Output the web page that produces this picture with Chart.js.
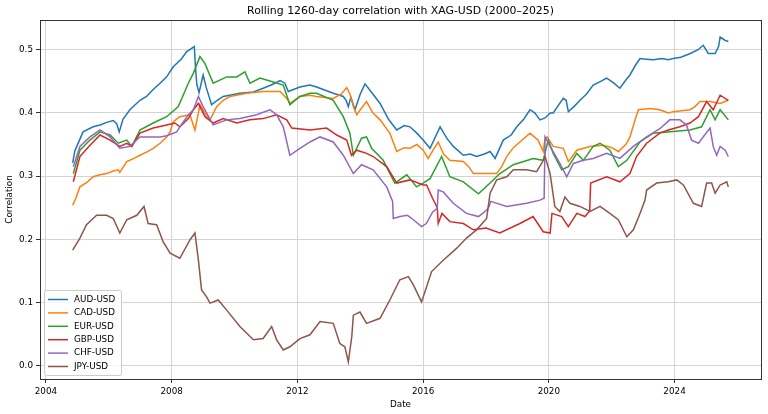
<!DOCTYPE html>
<html>
<head>
<meta charset="utf-8">
<script src="https://cdn.jsdelivr.net/npm/chart.js@4.4.0/dist/chart.umd.min.js"></script>
<style>
html,body{margin:0;padding:0;background:#fff}
</style>
</head>
<body>
<canvas id="corr" width="768" height="414"></canvas>
<script>
// rolling correlation with silver (decimal years)
const seriesNames = ['AUD-USD','CAD-USD','EUR-USD','GBP-USD','CHF-USD','JPY-USD'];
const seriesColors = ['#1f77b4','#ff7f0e','#2ca02c','#d62728','#9467bd','#8c564b'];
const xTicks = [2004,2008,2012,2016,2020,2024];
const yTicks = [0,0.1,0.2,0.3,0.4,0.5];

const audDates = [2004.85,2004.92,2005.18,2005.50,2005.72,2005.93,2006.14,2006.25,2006.33,2006.45,2006.67,2006.99,2007.20,2007.41,2007.63,2007.84,2008.05,2008.30,2008.48,2008.72,2008.76,2008.80,2008.87,2009.00,2009.10,2009.27,2009.45,2009.64,2010.17,2010.60,2010.91,2011.20,2011.45,2011.60,2011.71,2012.08,2012.40,2012.61,2013.14,2013.46,2013.55,2013.62,2013.70,2013.83,2014.00,2014.15,2014.40,2014.63,2014.90,2015.16,2015.40,2015.58,2015.80,2016.00,2016.22,2016.54,2016.75,2016.96,2017.28,2017.50,2017.70,2017.95,2018.13,2018.29,2018.55,2018.80,2018.98,2019.20,2019.40,2019.55,2019.72,2019.88,2020.04,2020.14,2020.30,2020.46,2020.55,2020.62,2020.80,2020.99,2021.20,2021.41,2021.65,2021.84,2022.05,2022.26,2022.45,2022.58,2022.75,2022.90,2023.10,2023.32,2023.60,2023.80,2023.96,2024.20,2024.50,2024.75,2024.91,2025.00,2025.07,2025.29,2025.40,2025.45,2025.60,2025.71];
const audValues = [0.321,0.340,0.370,0.378,0.381,0.385,0.388,0.383,0.370,0.390,0.405,0.420,0.426,0.437,0.447,0.457,0.473,0.485,0.497,0.505,0.470,0.445,0.432,0.460,0.440,0.413,0.420,0.426,0.431,0.433,0.439,0.445,0.451,0.447,0.434,0.441,0.444,0.441,0.431,0.426,0.420,0.410,0.425,0.405,0.430,0.446,0.430,0.415,0.390,0.373,0.380,0.378,0.368,0.357,0.344,0.378,0.360,0.347,0.333,0.335,0.331,0.335,0.339,0.328,0.357,0.365,0.378,0.390,0.405,0.400,0.389,0.392,0.400,0.400,0.412,0.423,0.420,0.402,0.410,0.420,0.430,0.444,0.450,0.455,0.448,0.439,0.452,0.460,0.475,0.486,0.485,0.484,0.486,0.484,0.486,0.488,0.494,0.500,0.507,0.500,0.494,0.494,0.505,0.520,0.515,0.513];

const cadDates = [2004.85,2004.95,2005.08,2005.30,2005.50,2005.72,2005.93,2006.14,2006.30,2006.35,2006.57,2006.80,2006.99,2007.20,2007.41,2007.63,2007.84,2007.95,2008.05,2008.26,2008.58,2008.74,2008.85,2008.90,2009.05,2009.22,2009.43,2009.64,2009.85,2010.39,2010.91,2011.45,2011.66,2011.76,2012.08,2012.40,2012.61,2013.14,2013.40,2013.57,2013.67,2013.78,2013.89,2014.00,2014.20,2014.40,2014.63,2014.94,2015.16,2015.40,2015.58,2015.80,2016.00,2016.16,2016.30,2016.48,2016.65,2016.85,2017.28,2017.45,2017.60,2018.02,2018.34,2018.50,2018.66,2018.87,2019.08,2019.40,2019.66,2019.82,2019.88,2019.95,2020.14,2020.46,2020.62,2020.89,2021.31,2021.73,2022.00,2022.21,2022.45,2022.58,2022.75,2022.85,2023.22,2023.53,2023.80,2023.96,2024.49,2024.65,2024.81,2025.13,2025.45,2025.71];
const cadValues = [0.254,0.265,0.283,0.290,0.299,0.302,0.304,0.308,0.310,0.306,0.323,0.328,0.333,0.338,0.344,0.352,0.362,0.370,0.386,0.394,0.397,0.373,0.400,0.413,0.400,0.389,0.410,0.420,0.426,0.431,0.434,0.434,0.423,0.415,0.426,0.428,0.426,0.423,0.430,0.440,0.430,0.410,0.397,0.405,0.418,0.400,0.389,0.368,0.339,0.345,0.344,0.350,0.341,0.328,0.340,0.354,0.335,0.325,0.323,0.315,0.304,0.304,0.304,0.315,0.331,0.345,0.354,0.368,0.357,0.339,0.360,0.362,0.347,0.344,0.323,0.341,0.347,0.349,0.345,0.339,0.350,0.362,0.390,0.405,0.407,0.405,0.400,0.402,0.405,0.410,0.418,0.418,0.415,0.420];

const eurDates = [2004.87,2005.08,2005.40,2005.72,2006.04,2006.30,2006.57,2006.73,2006.99,2007.41,2007.84,2008.21,2008.53,2008.69,2008.90,2009.06,2009.32,2009.75,2010.07,2010.33,2010.49,2010.81,2011.23,2011.55,2011.76,2012.08,2012.40,2012.61,2013.14,2013.46,2013.67,2013.78,2014.04,2014.20,2014.36,2014.73,2015.10,2015.48,2015.79,2016.00,2016.22,2016.59,2016.85,2017.28,2017.76,2018.13,2018.44,2018.87,2019.50,2019.82,2019.98,2020.14,2020.41,2020.62,2020.89,2021.10,2021.41,2021.63,2021.94,2022.21,2022.48,2022.90,2023.32,2023.85,2024.49,2024.86,2025.13,2025.29,2025.45,2025.71];
const eurValues = [0.304,0.341,0.357,0.370,0.365,0.352,0.357,0.347,0.373,0.384,0.394,0.410,0.447,0.463,0.489,0.478,0.447,0.457,0.457,0.465,0.447,0.455,0.449,0.444,0.413,0.426,0.431,0.431,0.420,0.394,0.368,0.333,0.360,0.362,0.344,0.325,0.289,0.302,0.283,0.289,0.296,0.331,0.299,0.291,0.272,0.289,0.304,0.318,0.328,0.325,0.357,0.336,0.310,0.315,0.336,0.325,0.347,0.352,0.341,0.315,0.325,0.354,0.368,0.370,0.373,0.378,0.405,0.389,0.405,0.389];

const gbpDates = [2004.87,2005.08,2005.40,2005.72,2006.04,2006.35,2006.57,2006.73,2006.99,2007.41,2007.84,2008.10,2008.26,2008.53,2008.69,2008.85,2009.06,2009.32,2009.64,2010.07,2010.49,2010.91,2011.34,2011.66,2011.82,2012.40,2012.93,2013.25,2013.57,2013.72,2013.89,2014.20,2014.41,2014.84,2015.16,2015.58,2016.00,2016.11,2016.30,2016.45,2016.48,2016.60,2016.85,2017.28,2017.60,2018.00,2018.44,2019.08,2019.50,2019.82,2020.04,2020.10,2020.41,2020.62,2020.89,2021.15,2021.30,2021.33,2021.84,2022.26,2022.58,2022.79,2023.11,2023.53,2023.80,2024.17,2024.49,2024.76,2025.02,2025.23,2025.45,2025.71];
const gbpValues = [0.291,0.331,0.349,0.365,0.357,0.347,0.352,0.347,0.368,0.376,0.381,0.384,0.378,0.391,0.405,0.415,0.394,0.384,0.391,0.384,0.389,0.391,0.397,0.389,0.376,0.373,0.376,0.365,0.357,0.333,0.341,0.336,0.331,0.315,0.289,0.294,0.286,0.286,0.265,0.250,0.225,0.241,0.228,0.225,0.215,0.218,0.210,0.225,0.236,0.212,0.210,0.241,0.236,0.220,0.241,0.236,0.245,0.289,0.299,0.291,0.304,0.331,0.352,0.368,0.373,0.378,0.384,0.394,0.418,0.405,0.428,0.420];

const chfDates = [2004.87,2005.08,2005.40,2005.72,2006.04,2006.35,2006.67,2006.99,2007.31,2007.63,2007.84,2008.16,2008.26,2008.53,2008.69,2008.85,2009.00,2009.32,2009.75,2010.17,2010.70,2011.13,2011.34,2011.55,2011.76,2012.08,2012.40,2012.72,2013.14,2013.46,2013.78,2014.04,2014.41,2014.84,2015.03,2015.05,2015.26,2015.50,2015.69,2015.95,2016.10,2016.30,2016.45,2016.48,2016.64,2016.96,2017.38,2017.76,2018.02,2018.10,2018.15,2018.66,2019.29,2019.72,2019.85,2019.88,2020.04,2020.35,2020.57,2020.78,2021.10,2021.41,2021.84,2022.26,2022.69,2023.11,2023.53,2023.85,2024.17,2024.38,2024.54,2024.76,2024.91,2025.13,2025.23,2025.34,2025.45,2025.61,2025.71];
const chfValues = [0.315,0.347,0.362,0.373,0.362,0.344,0.347,0.362,0.362,0.362,0.364,0.370,0.378,0.397,0.405,0.426,0.410,0.381,0.389,0.391,0.397,0.405,0.397,0.378,0.333,0.344,0.354,0.362,0.354,0.333,0.304,0.318,0.310,0.283,0.260,0.233,0.236,0.238,0.231,0.220,0.225,0.243,0.249,0.278,0.275,0.257,0.241,0.236,0.246,0.252,0.260,0.252,0.257,0.262,0.265,0.362,0.347,0.320,0.299,0.320,0.325,0.328,0.336,0.328,0.347,0.362,0.375,0.389,0.389,0.381,0.357,0.352,0.362,0.376,0.347,0.333,0.347,0.341,0.331];

const jpyDates = [2004.85,2005.08,2005.29,2005.61,2005.93,2006.14,2006.35,2006.57,2006.89,2007.12,2007.25,2007.52,2007.73,2007.95,2008.26,2008.58,2008.74,2008.85,2008.95,2009.11,2009.22,2009.48,2009.75,2010.17,2010.60,2010.91,2011.18,2011.34,2011.55,2011.76,2012.08,2012.40,2012.72,2013.14,2013.35,2013.51,2013.62,2013.73,2013.78,2013.99,2014.20,2014.63,2014.94,2015.26,2015.53,2015.69,2015.95,2016.11,2016.27,2016.64,2017.07,2017.38,2017.70,2018.02,2018.10,2018.13,2018.34,2018.66,2018.87,2019.29,2019.61,2019.77,2019.88,2020.04,2020.19,2020.35,2020.51,2020.67,2020.99,2021.31,2021.63,2021.94,2022.21,2022.48,2022.69,2022.90,2023.06,2023.11,2023.43,2023.80,2024.07,2024.28,2024.60,2024.86,2025.02,2025.18,2025.29,2025.45,2025.66,2025.71];
const jpyValues = [0.183,0.202,0.223,0.238,0.238,0.233,0.210,0.231,0.238,0.252,0.225,0.223,0.196,0.178,0.170,0.199,0.210,0.167,0.120,0.109,0.099,0.104,0.088,0.062,0.041,0.043,0.062,0.041,0.025,0.030,0.043,0.049,0.070,0.067,0.035,0.030,0.006,0.046,0.080,0.085,0.067,0.075,0.104,0.136,0.141,0.128,0.101,0.125,0.149,0.167,0.186,0.202,0.215,0.233,0.262,0.273,0.294,0.299,0.310,0.310,0.307,0.320,0.331,0.304,0.252,0.244,0.267,0.257,0.252,0.244,0.252,0.241,0.231,0.204,0.215,0.241,0.262,0.278,0.289,0.291,0.294,0.286,0.257,0.252,0.289,0.289,0.273,0.286,0.291,0.283];

const allDates = [audDates,cadDates,eurDates,gbpDates,chfDates,jpyDates];
const allValues = [audValues,cadValues,eurValues,gbpValues,chfValues,jpyValues];

const datasets = seriesNames.map((name,i)=>({
    label:name,
    data:allDates[i].map((d,j)=>({x:d,y:allValues[i][j]})),
    borderColor:seriesColors[i],
    borderWidth:1.5,
    pointRadius:0,
    tension:0,
    order:seriesNames.length-i   // later series on top, like matplotlib
}));

const FONT = 'DejaVu Sans';

// frame, title and legend drawn by hand so they sit where matplotlib puts them
const decor = {
    id:'decor',
    afterDatasetsDraw(chart){
        const {ctx,chartArea:a} = chart;
        ctx.save();
        ctx.strokeStyle = '#333';
        ctx.lineWidth = 1;
        ctx.strokeRect(a.left+0.5,a.top+0.5,a.right-a.left,a.bottom-a.top);

        // legend box, lower left
        const bx=44, by=290, bw=77, bh=85;
        ctx.fillStyle='rgba(255,255,255,0.8)';
        ctx.strokeStyle='#cccccc';
        ctx.beginPath();
        ctx.roundRect(bx+0.5,by+0.5,bw,bh,2);
        ctx.fill(); ctx.stroke();
        ctx.font = '8.8px "'+FONT+'"';
        ctx.textBaseline='middle';
        ctx.textAlign='left';
        seriesNames.forEach((name,i)=>{
            const yy = 299.5 + i*13.4;
            ctx.strokeStyle=seriesColors[i];
            ctx.lineWidth=1.5;
            ctx.beginPath(); ctx.moveTo(48,yy); ctx.lineTo(68,yy); ctx.stroke();
            ctx.fillStyle='#000';
            ctx.fillText(name,74,yy);
        });

        ctx.font = '10.9px "'+FONT+'"';
        ctx.textAlign='center';
        ctx.fillStyle='#000';
        ctx.fillText('Rolling 1260-day correlation with XAG-USD (2000\u20132025)',(a.left+a.right)/2,11);
        ctx.restore();
    }
};

const ctxCorr = document.getElementById('corr').getContext('2d');
const corrChart = new Chart(ctxCorr,{
    type:'line',
    data:{datasets},
    plugins:[decor],
    options:{
        responsive:false,
        animation:false,
        layout:{padding:{top:20,right:7,left:0,bottom:0}},
        plugins:{
            legend:{display:false},
            tooltip:{enabled:false}
        },
        scales:{
            x:{
                type:'linear',
                min:2003.81,
                max:2026.75,
                afterBuildTicks:s=>{s.ticks = xTicks.map(v=>({value:v}));},
                afterFit:s=>{s.height = 35;},
                ticks:{callback:v=>String(v),color:'#000',font:{family:FONT,size:8.8},padding:3,maxRotation:0},
                grid:{color:'#d4d4d4',tickColor:'#333',tickLength:4},
                border:{display:false},
                title:{display:true,text:'Date',color:'#000',font:{family:FONT,size:8.8},padding:{top:0,bottom:4}}
            },
            y:{
                min:-0.021,
                max:0.547,
                afterBuildTicks:s=>{s.ticks = yTicks.map(v=>({value:v}));},
                afterFit:s=>{s.width = 40;},
                ticks:{callback:v=>v.toFixed(1),color:'#000',font:{family:FONT,size:8.8},padding:3},
                grid:{color:'#d4d4d4',tickColor:'#333',tickLength:4},
                border:{display:false},
                title:{display:true,text:'Correlation',color:'#000',font:{family:FONT,size:8.8},padding:{top:4,bottom:0}}
            }
        }
    }
});
</script>
</body>
</html>
